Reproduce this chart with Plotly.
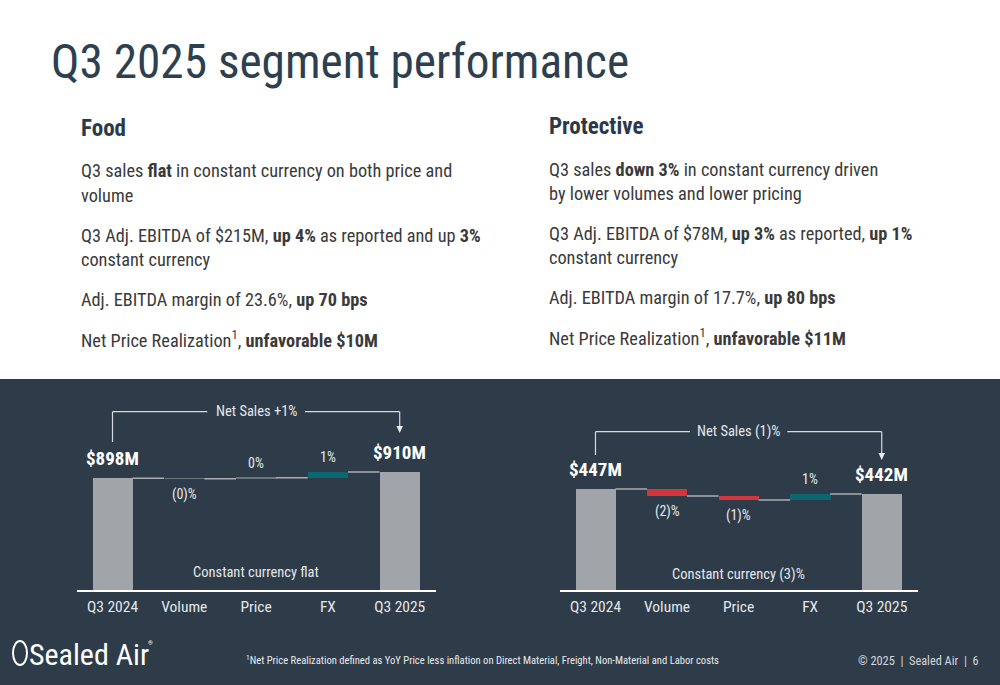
import plotly.graph_objects as go

# ---------------- data ----------------
categories = ["Q3 2024", "Volume", "Price", "FX", "Q3 2025"]
measures = ["absolute", "relative", "relative", "relative", "total"]

food_values = [898, -1, 2, 11, 910]
food_labels = ["$898M", "(0)%", "0%", "1%", "$910M"]
food_bridge = "Net Sales +1%"
food_cc = "Constant currency flat"

prot_values = [447, -7, -4, 6, 442]
prot_labels = ["$447M", "(2)%", "(1)%", "1%", "$442M"]
prot_bridge = "Net Sales (1)%"
prot_cc = "Constant currency (3)%"

title_text = "Q3 2025 segment performance"
food_heading = "Food"
food_paragraphs = [
    ["Q3 sales <b>flat</b> in constant currency on both price and", "volume"],
    ["Q3 Adj. EBITDA of $215M, <b>up 4%</b> as reported and up <b>3%</b>", "constant currency"],
    ["Adj. EBITDA margin of 23.6%, <b>up 70 bps</b>"],
    ["Net Price Realization<sup>1</sup>, <b>unfavorable $10M</b>"],
]
prot_heading = "Protective"
prot_paragraphs = [
    ["Q3 sales <b>down 3%</b> in constant currency driven", "by lower volumes and lower pricing"],
    ["Q3 Adj. EBITDA of $78M, <b>up 3%</b> as reported, <b>up 1%</b>", "constant currency"],
    ["Adj. EBITDA margin of 17.7%, <b>up 80 bps</b>"],
    ["Net Price Realization<sup>1</sup>, <b>unfavorable $11M</b>"],
]
footnote = "<sup>1</sup>Net Price Realization defined as YoY Price less inflation on Direct Material, Freight, Non-Material and Labor costs"
copyright_text = "© 2025  |  Sealed Air  |  6"
logo_text = "Sealed Air"

# ---------------- style ----------------
W, H = 1000, 685
NARROW = "Roboto Condensed, Liberation Sans Narrow, Roboto, sans-serif"
BAND = "#2e3c4a"
GRAY = "#a1a5a9"
TEAL = "#0b6870"
RED = "#d2353b"
CONN = "#a9aeb3"
LIGHT = "#e4e7ea"
TITLE_C = "#2e3f4f"
BODY_C = "#3a3a3a"
BAR_W = 0.56


def px(x):
    return x / W


def py(y):
    return 1 - y / H


def waterfall(values, meas):
    bases, heights, ends = [], [], []
    level = 0
    for v, m in zip(values, meas):
        if m == "relative":
            bases.append(level)
            heights.append(v)
            level += v
        else:
            bases.append(0)
            heights.append(v)
            level = v
        ends.append(level)
    return bases, heights, ends


def colors_for(values, meas):
    out = []
    for v, m in zip(values, meas):
        if m != "relative":
            out.append(GRAY)
        elif abs(v) <= 2:
            out.append("#6b757e")
        elif v > 0:
            out.append(TEAL)
        else:
            out.append(RED)
    return out


fig = go.Figure()
shapes = []
annotations = []

charts = [
    dict(values=food_values, labels=food_labels, bridge=food_bridge, cc=food_cc,
         xa="x", ya="y", xdom=[px(76.6), px(435.6)], yrange=[685, 1047],
         bridge_y=411.7, left_tick=442, arrow_tip=433, cc_y=572.7),
    dict(values=prot_values, labels=prot_labels, bridge=prot_bridge, cc=prot_cc,
         xa="x2", ya="y2", xdom=[px(559.7), px(917.5)], yrange=[346, 536],
         bridge_y=431.7, left_tick=455, arrow_tip=460, cc_y=574.3),
]

ydom = [py(590), py(400)]

for i, c in enumerate(charts):
    bases, heights, ends = waterfall(c["values"], measures)
    fig.add_trace(go.Bar(
        x=categories, y=heights, base=bases, width=BAR_W,
        marker=dict(color=colors_for(c["values"], measures), line=dict(width=0)),
        xaxis=c["xa"], yaxis=c["ya"], hoverinfo="skip", showlegend=False,
    ))
    # connectors
    for k in range(len(categories) - 1):
        shapes.append(dict(type="line", xref=c["xa"], yref=c["ya"],
                           x0=k + BAR_W / 2, x1=k + 1 - BAR_W / 2,
                           y0=ends[k], y1=ends[k],
                           line=dict(color=CONN, width=1.5)))
    # value labels
    for k, (cat, lab) in enumerate(zip(categories, c["labels"])):
        v = c["values"][k]
        if measures[k] != "relative":
            annotations.append(dict(x=k, y=ends[k], xref=c["xa"], yref=c["ya"],
                                    text="<b>" + lab + "</b>", showarrow=False,
                                    yanchor="bottom", yshift=6,
                                    font=dict(family=NARROW, size=19, color="#ffffff")))
        else:
            top = max(bases[k], bases[k] + v)
            bot = min(bases[k], bases[k] + v)
            if v >= 0:
                annotations.append(dict(x=k, y=top, xref=c["xa"], yref=c["ya"], text=lab,
                                        showarrow=False, yanchor="bottom", yshift=5,
                                        font=dict(family=NARROW, size=14, color=LIGHT)))
            else:
                annotations.append(dict(x=k, y=bot, xref=c["xa"], yref=c["ya"], text=lab,
                                        showarrow=False, yanchor="top", yshift=-5,
                                        font=dict(family=NARROW, size=14, color=LIGHT)))
    # constant currency label
    annotations.append(dict(x=2, y=py(c["cc_y"]), xref=c["xa"], yref="paper", text=c["cc"],
                            showarrow=False, yanchor="middle",
                            font=dict(family=NARROW, size=14.5, color=LIGHT)))
    # bridge bracket
    by = py(c["bridge_y"])
    gap = 0.68
    bl = dict(color="#d5d9dc", width=1.2)
    shapes += [
        dict(type="line", xref=c["xa"], yref="paper", x0=0, x1=0, y0=py(c["left_tick"]), y1=by, line=bl),
        dict(type="line", xref=c["xa"], yref="paper", x0=0, x1=2 - gap, y0=by, y1=by, line=bl),
        dict(type="line", xref=c["xa"], yref="paper", x0=2 + gap, x1=4, y0=by, y1=by, line=bl),
        dict(type="line", xref=c["xa"], yref="paper", x0=4, x1=4, y0=by, y1=py(c["arrow_tip"] - 6), line=bl),
        dict(type="path", xref=c["xa"], yref="paper",
             path=f"M 3.955,{py(c['arrow_tip'] - 7)} L 4.045,{py(c['arrow_tip'] - 7)} L 4,{py(c['arrow_tip'])} Z",
             fillcolor="#e8ebed", line=dict(width=0)),
    ]
    annotations.append(dict(x=2, y=by, xref=c["xa"], yref="paper", text=c["bridge"],
                            showarrow=False, yanchor="middle",
                            font=dict(family=NARROW, size=14.5, color=LIGHT)))

# band
shapes.insert(0, dict(type="rect", xref="paper", yref="paper", x0=0, x1=1, y0=0, y1=py(379),
                      fillcolor=BAND, line=dict(width=0), layer="below"))

# title and text
annotations.append(dict(x=px(49), y=py(62), xref="paper", yref="paper", text=title_text,
                        showarrow=False, xanchor="left", yanchor="middle",
                        font=dict(family=NARROW, size=47.3, color=TITLE_C)))


def add_column(heading, paragraphs, x, head_y, start_y):
    annotations.append(dict(x=px(x), y=py(head_y), xref="paper", yref="paper",
                            text="<b>" + heading + "</b>", showarrow=False,
                            xanchor="left", yanchor="middle",
                            font=dict(family=NARROW, size=23, color="#2b3a48")))
    y = start_y
    for p_i, para in enumerate(paragraphs):
        if p_i > 0:
            y += 40
        for l_i, line in enumerate(para):
            if l_i > 0:
                y += 24
            annotations.append(dict(x=px(x), y=py(y), xref="paper", yref="paper",
                                    text=line, showarrow=False, xanchor="left", yanchor="middle",
                                    font=dict(family=NARROW, size=18.3, color=BODY_C)))


add_column(food_heading, food_paragraphs, 79, 128, 171)
add_column(prot_heading, prot_paragraphs, 547, 127, 169)

# footer
annotations.append(dict(x=px(244), y=py(660), xref="paper", yref="paper", text=footnote,
                        showarrow=False, xanchor="left", yanchor="middle",
                        font=dict(family=NARROW, size=10.6, color="#e8eaec")))
annotations.append(dict(x=px(981), y=py(661), xref="paper", yref="paper", text=copyright_text,
                        showarrow=False, xanchor="right", yanchor="middle",
                        font=dict(family=NARROW, size=12.3, color="#d3d7da")))
annotations.append(dict(x=px(27), y=py(654), xref="paper", yref="paper", text=logo_text,
                        showarrow=False, xanchor="left", yanchor="middle",
                        font=dict(family=NARROW, size=30, color="#ffffff")))
annotations.append(dict(x=px(146), y=py(642), xref="paper", yref="paper", text="®",
                        showarrow=False, xanchor="left", yanchor="middle",
                        font=dict(family=NARROW, size=6, color="#ffffff")))
shapes.append(dict(type="circle", xref="paper", yref="paper", x0=px(13), x1=px(27),
                   y0=py(665), y1=py(641), line=dict(color="#ffffff", width=2)))

axis_common = dict(type="category", range=[-0.5, 4.5], showline=True, linecolor="#ffffff",
                   linewidth=2, showgrid=False, zeroline=False, ticks="", fixedrange=True,
                   tickfont=dict(family=NARROW, size=15.5, color=LIGHT), ticklabelstandoff=1)
yaxis_common = dict(visible=False, showgrid=False, zeroline=False, fixedrange=True)

fig.update_layout(
    width=W, height=H, autosize=False,
    margin=dict(l=0, r=0, t=0, b=0),
    paper_bgcolor="#ffffff", plot_bgcolor="rgba(0,0,0,0)",
    bargap=0, barmode="overlay",
    xaxis=dict(domain=charts[0]["xdom"], anchor="y", **axis_common),
    yaxis=dict(domain=ydom, range=charts[0]["yrange"], anchor="x", **yaxis_common),
    xaxis2=dict(domain=charts[1]["xdom"], anchor="y2", **axis_common),
    yaxis2=dict(domain=ydom, range=charts[1]["yrange"], anchor="x2", **yaxis_common),
    shapes=shapes, annotations=annotations,
)

fig.write_html("out.html", config={"displayModeBar": False})
